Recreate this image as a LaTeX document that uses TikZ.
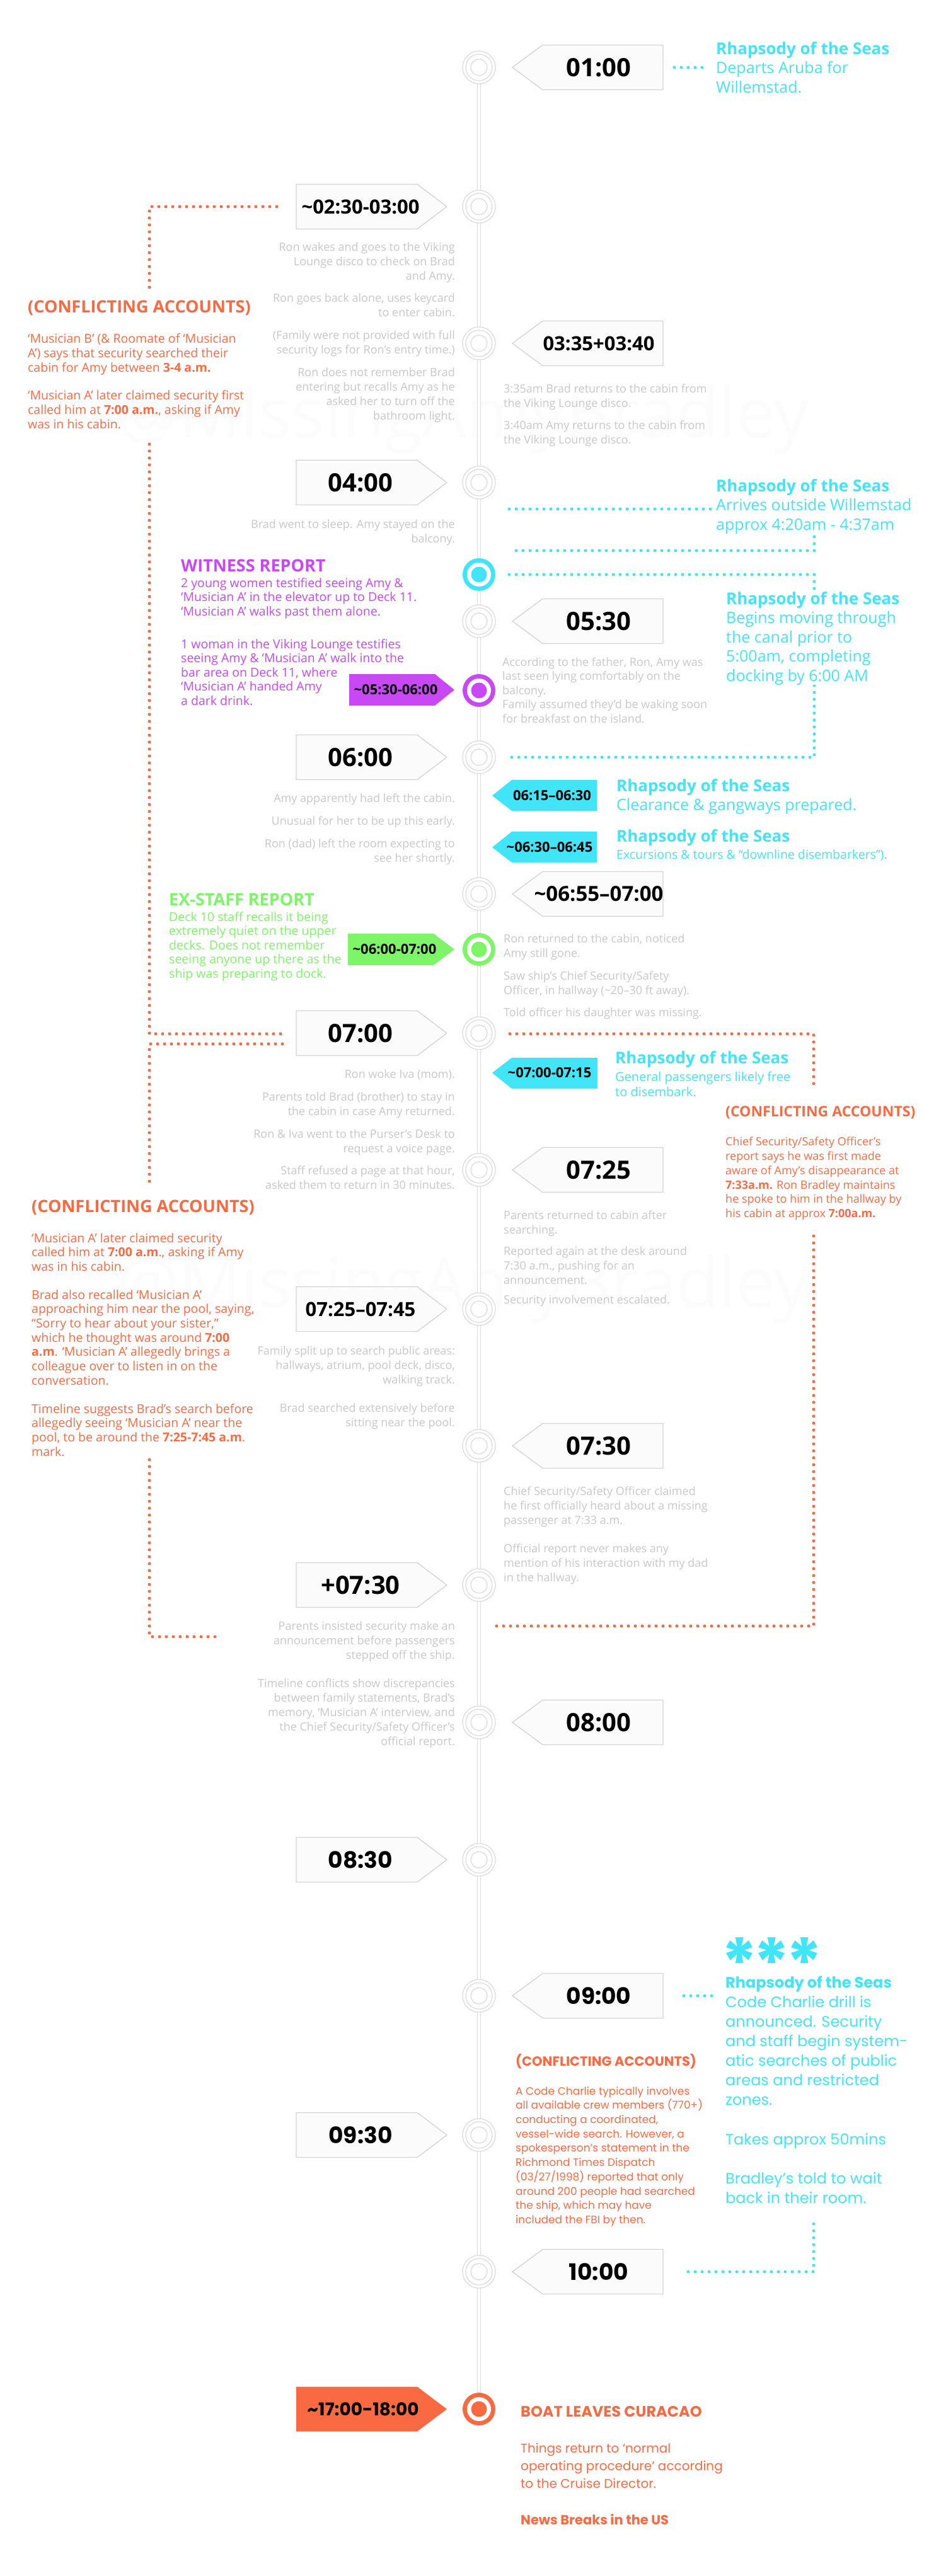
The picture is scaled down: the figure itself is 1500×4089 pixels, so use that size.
\documentclass[tikz,border=0pt]{standalone}
\usepackage{fontspec}
\setmainfont{Open Sans}
\newfontfamily\popfont{Poppins}
\usetikzlibrary{positioning}

\definecolor{seacyan}{RGB}{66,229,247}
\definecolor{witpurple}{RGB}{201,72,245}
\definecolor{staffgreen}{RGB}{126,245,104}
\definecolor{conforange}{RGB}{249,106,66}
\definecolor{pale}{RGB}{200,200,200}
\definecolor{faint}{RGB}{252,252,252}

\newcommand{\fs}[2]{\fontsize{#1}{#2}\selectfont}

\begin{document}
\begin{tikzpicture}[x=1pt, y=-1pt, line join=round, line cap=round,
    axis/.style={draw=black!13, line width=1.2pt, double=white, double distance=4pt},
    ringline/.style={draw=black!14, line width=1.2pt, fill=white},
    tbox/.style={draw=black!17, line width=1.3pt, fill=black!1.5},
    ttext/.style={inner sep=0pt},
    tagtext/.style={inner sep=0pt, font=\bfseries\fs{22}{22}},
    odots/.style={draw=conforange, line width=5pt, dash pattern=on 0pt off 11pt},
    cdots/.style={draw=seacyan, line width=5pt, dash pattern=on 0pt off 11pt},
    note/.style={inner sep=0pt, text=pale, font=\fs{18}{23}},
    seatext/.style={inner sep=0pt, text=seacyan, align=left, font=\fs{25}{30.5}},
    conftext/.style={inner sep=0pt, text=conforange, align=left},
    wmark/.style={inner sep=0pt, text=faint, font=\fs{110}{110}}]

  \fill[white] (0,0) rectangle (1500,4089);
  \useasboundingbox (0,0) rectangle (1500,4089);

  % watermarks
  \node[wmark, anchor=base west] (wm1) at (184,694) {@MissingAmyBradley};
  \node[wmark, anchor=base west] (wm2) at (184,2075) {@MissingAmyBradley};

  % time axis
  \coordinate (top) at (760,107);
  \coordinate (bot) at (760,3824);
  \draw[axis] (top) -- (bot);

  % time boxes right of the axis
  \foreach \y/\sz/\lbl in {107/40/01:00, 545/31/03:35+03:40, 986/40/05:30,
      1419/33/{\textasciitilde06:55–07:00}, 1857/40/07:25, 2295/40/07:30, 2734/40/08:00} {
    \draw[tbox] (813,\y) -- (861,\y-35.5) -- (1052,\y-35.5) -- (1052,\y+35.5) -- (861,\y+35.5) -- cycle;
    \node[ttext, font=\bfseries\fs{\sz}{\sz}] (tR\y) at (950,\y) {\lbl};
    \draw[ringline] (760,\y) circle[radius=26] circle[radius=21] circle[radius=13];
  }
  % time boxes left of the axis
  \foreach \y/\sz/\lbl in {328/31/{\textasciitilde02:30-03:00}, 766/40/04:00, 1202/40/06:00,
      1640/40/07:00, 2078/31/07:25–07:45, 2516/40/+07:30} {
    \draw[tbox] (470,\y-35.5) -- (662,\y-35.5) -- (709,\y) -- (662,\y+35.5) -- (470,\y+35.5) -- cycle;
    \node[ttext, font=\bfseries\fs{\sz}{\sz}] (tL\y) at (572,\y) {\lbl};
    \draw[ringline] (760,\y) circle[radius=26] circle[radius=21] circle[radius=13];
  }
  % later hours
  \foreach \y/\lbl in {2952/08:30, 3389/09:30} {
    \draw[tbox] (470,\y-35.5) -- (662,\y-35.5) -- (709,\y) -- (662,\y+35.5) -- (470,\y+35.5) -- cycle;
    \node[ttext, font=\popfont\bfseries\fs{36}{36}] (tL\y) at (572,\y) {\lbl};
    \draw[ringline] (760,\y) circle[radius=26] circle[radius=21] circle[radius=13];
  }
  \foreach \y/\lbl in {3168/09:00, 3606/10:00} {
    \draw[tbox] (813,\y) -- (861,\y-35.5) -- (1052,\y-35.5) -- (1052,\y+35.5) -- (861,\y+35.5) -- cycle;
    \node[ttext, font=\popfont\bfseries\fs{36}{36}] (tR\y) at (950,\y) {\lbl};
    \draw[ringline] (760,\y) circle[radius=26] circle[radius=21] circle[radius=13];
  }

  % coloured events
  \foreach \y/\c in {912/seacyan, 1096/witpurple, 1507/staffgreen, 3824/conforange} {
    \fill[\c] (760,\y) circle[radius=26];
    \fill[white] (760,\y) circle[radius=19];
    \fill[\c] (760,\y) circle[radius=12.5];
  }

  % coloured tags
  \fill[witpurple] (554,1070) -- (690,1070) -- (721,1095) -- (690,1120) -- (554,1120) -- cycle;
  \node[tagtext] (tag0530) at (628,1095) {\textasciitilde05:30-06:00};
  \fill[staffgreen] (552,1482) -- (688,1482) -- (721,1507) -- (688,1532) -- (552,1532) -- cycle;
  \node[tagtext] (tag0600) at (626,1507) {\textasciitilde06:00-07:00};
  \fill[seacyan] (781,1263) -- (812,1238) -- (947,1238) -- (947,1287) -- (812,1287) -- cycle;
  \node[tagtext] (tag0615) at (876,1263) {06:15–06:30};
  \fill[seacyan] (781,1345) -- (812,1320) -- (947,1320) -- (947,1369) -- (812,1369) -- cycle;
  \node[tagtext] (tag0630) at (872,1345) {\textasciitilde06:30–06:45};
  \fill[seacyan] (781,1703) -- (812,1679) -- (948,1679) -- (948,1728) -- (812,1728) -- cycle;
  \node[tagtext] (tag0700) at (872,1703) {\textasciitilde07:00-07:15};
  \fill[conforange] (470,3788.5) -- (662,3788.5) -- (709,3824) -- (662,3859.5) -- (470,3859.5) -- cycle;
  \node[ttext, font=\popfont\bfseries\fs{28}{28}] (tag1700) at (576,3824) {\textasciitilde17:00-18:00};

  % dotted brackets
  \coordinate (oa1) at (439,328);  \coordinate (oa2) at (237,328);  \coordinate (oa3) at (237,457);
  \coordinate (oa4) at (237,705);  \coordinate (oa5) at (237,1641); \coordinate (oa6) at (448,1641);
  \draw[odots] (oa1) -- (oa2) -- (oa3);
  \draw[odots] (oa4) -- (oa5) -- (oa6);
  \coordinate (ob1) at (448,1657); \coordinate (ob2) at (237,1657); \coordinate (ob3) at (237,1880);
  \coordinate (ob4) at (237,2317); \coordinate (ob5) at (237,2598); \coordinate (ob6) at (342,2598);
  \draw[odots] (ob1) -- (ob2) -- (ob3);
  \draw[odots] (ob4) -- (ob5) -- (ob6);
  \coordinate (oc1) at (809,1641); \coordinate (oc2) at (1291,1641); \coordinate (oc3) at (1291,1728);
  \coordinate (oc4) at (1291,1962); \coordinate (oc5) at (1291,2581); \coordinate (oc6) at (787,2581);
  \draw[odots] (oc1) -- (oc2) -- (oc3);
  \draw[odots] (oc4) -- (oc5) -- (oc6);

  \coordinate (ca1) at (1070,107); \coordinate (ca2) at (1119,107);
  \draw[cdots] (ca1) -- (ca2);
  \coordinate (cb1) at (808,808); \coordinate (cb2) at (1292,808);
  \coordinate (cb3) at (1292,874); \coordinate (cb4) at (808,874);
  \draw[cdots] (cb1) -- (cb2) -- (cb3) -- (cb4);
  \coordinate (cc1) at (808,912); \coordinate (cc2) at (1292,912);
  \coordinate (cc3) at (1292,1202); \coordinate (cc4) at (805,1202);
  \draw[cdots] (cc1) -- (cc2) -- (cc3) -- (cc4);
  \coordinate (cd1) at (1085,3168); \coordinate (cd2) at (1136,3168);
  \draw[cdots] (cd1) -- (cd2);
  \coordinate (ce1) at (1291,3530); \coordinate (ce2) at (1291,3606); \coordinate (ce3) at (1084,3606);
  \draw[cdots] (ce1) -- (ce2) -- (ce3);

  % Rhapsody of the Seas
  \node[seatext, anchor=north west] (sea1) at (1136,66)
    {\textbf{\fs{26}{30.5}Rhapsody of the Seas}\\Departs Aruba for\\Willemstad.};
  \node[seatext, anchor=north west, fill=white] (sea2) at (1136,760)
    {\textbf{\fs{26}{30.5}Rhapsody of the Seas}\\Arrives outside Willemstad\\approx 4:20am - 4:37am};
  \node[seatext, anchor=north west, fill=white] (sea3) at (1152,939)
    {\textbf{\fs{26}{30.5}Rhapsody of the Seas}\\Begins moving through\\the canal prior to\\5:00am, completing\\docking by 6:00 AM};
  \node[seatext, anchor=north west] (sea4) at (978,1236)
    {\textbf{\fs{26}{30.5}Rhapsody of the Seas}\\Clearance \& gangways prepared.};
  \node[seatext, anchor=west, font=\bfseries\fs{26}{26}] (sea5) at (978,1330) {Rhapsody of the Seas};
  \node[seatext, anchor=west, font=\fs{19.5}{19.5}] (sea5b) at (978,1358) {Excursions \& tours \& “downline disembarkers”).};
  \node[seatext, anchor=west, font=\bfseries\fs{26}{26}] (sea6) at (976,1682) {Rhapsody of the Seas};
  \node[seatext, anchor=north west, font=\fs{20}{24}] (sea6b) at (976,1701)
    {General passengers likely free\\to disembark.};

  % witness report
  \node[inner sep=0pt, anchor=west, text=witpurple, font=\bfseries\fs{27}{27}] (wit) at (287,898) {WITNESS REPORT};
  \node[inner sep=0pt, anchor=north west, align=left, text=witpurple, font=\fs{19.5}{22.5}] (wit1) at (287,917)
    {2 young women testified seeing Amy \&\\‘Musician A’ in the elevator up to Deck 11.\\‘Musician A’ walks past them alone.};
  \node[inner sep=0pt, anchor=north west, align=left, text=witpurple, font=\fs{19.5}{22.5}] (wit2) at (287,1014)
    {1 woman in the Viking Lounge testifies\\seeing Amy \& ‘Musician A’ walk into the\\bar area on Deck 11, where\\‘Musician A’ handed Amy\\a dark drink.};

  % ex-staff report
  \node[inner sep=0pt, anchor=west, text=staffgreen, font=\bfseries\fs{27}{27}] (staff) at (268,1428) {EX-STAFF REPORT};
  \node[inner sep=0pt, anchor=north west, align=left, text=staffgreen, font=\fs{19.5}{22.5}] (staff1) at (268,1447)
    {Deck 10 staff recalls it being\\extremely quiet on the upper\\decks. Does not remember\\seeing anyone up there as the\\ship was preparing to dock.};

  % conflicting accounts
  \node[conftext, anchor=west, font=\bfseries\fs{27}{27}] (conf1) at (44,489) {(CONFLICTING ACCOUNTS)};
  \node[conftext, anchor=north west, font=\fs{19.5}{23}] (conf1b) at (44,529)
    {‘Musician B’ (\& Roomate of ‘Musician\\A’) says that security searched their\\cabin for Amy between \textbf{3-4 a.m.}\\[21pt]
     ‘Musician A’ later claimed security first\\called him at \textbf{7:00 a.m.}, asking if Amy\\was in his cabin.};
  \node[conftext, anchor=west, font=\bfseries\fs{23}{23}] (conf2) at (1151,1766) {(CONFLICTING ACCOUNTS)};
  \node[conftext, anchor=north west, font=\fs{18}{22.7}] (conf2b) at (1151,1805)
    {Chief Security/Safety Officer’s\\report says he was first made\\aware of Amy’s disappearance at\\\textbf{7:33a.m.} Ron Bradley maintains\\he spoke to him in the hallway by\\his cabin at approx \textbf{7:00a.m.}};
  \node[conftext, anchor=west, font=\bfseries\fs{27}{27}] (conf3) at (50,1917) {(CONFLICTING ACCOUNTS)};
  \node[conftext, anchor=north west, font=\fs{19.5}{22.7}] (conf3b) at (50,1957)
    {‘Musician A’ later claimed security\\called him at \textbf{7:00 a.m}., asking if Amy\\was in his cabin.\\[22pt]
     Brad also recalled ‘Musician A’\\approaching him near the pool, saying,\\“Sorry to hear about your sister,”\\which he thought was around \textbf{7:00}\\\textbf{a.m}. ‘Musician A’ allegedly brings a\\colleague over to listen in on the\\conversation.\\[22pt]
     Timeline suggests Brad’s search before\\allegedly seeing ‘Musician A’ near the\\pool, to be around the \textbf{7:25-7:45 a.m}.\\mark.};
  \node[conftext, anchor=west, font=\popfont\bfseries\fs{21}{21}] (conf4) at (818,3272) {(CONFLICTING ACCOUNTS)};
  \node[conftext, anchor=north west, font=\popfont\fs{17}{22.7}] (conf4b) at (818,3312)
    {A Code Charlie typically involves\\all available crew members (770+)\\conducting a coordinated,\\vessel-wide search. However, a\\spokesperson’s statement in the\\Richmond Times Dispatch\\(03/27/1998) reported that only\\around 200 people had searched\\the ship, which may have\\included the FBI by then.};

  % code charlie
  \node[inner sep=0pt, anchor=west, text=seacyan, font=\popfont\bfseries\fs{108}{108}] (stars) at (1144,3116) {*\kern-6pt*\kern-6pt*};
  \node[inner sep=0pt, anchor=north west, align=left, text=seacyan, font=\popfont\fs{24}{31}] (sea7) at (1151,3136)
    {\textbf{Rhapsody of the Seas}\\Code Charlie drill is\\announced. Security\\and staff begin system-\\atic searches of public\\areas and restricted\\zones.\\[32pt]
     Takes approx 50mins\\[31pt]Bradley’s told to wait\\back in their room.};

  % departure
  \node[conftext, anchor=west, font=\popfont\bfseries\fs{24}{24}] (boat) at (826,3828) {BOAT LEAVES CURACAO};
  \node[conftext, anchor=north west, font=\popfont\fs{20}{28}] (boatb) at (826,3878)
    {Things return to ‘normal\\operating procedure’ according\\to the Cruise Director.};
  \node[conftext, anchor=west, font=\popfont\bfseries\fs{21}{21}] (news) at (826,3999) {News Breaks in the US};

  % family account
  \node[note, anchor=north east, align=right] (n1) at (722,384.5)
    {Ron wakes and goes to the Viking\\Lounge disco to check on Brad\\and Amy.\\[12pt]
     Ron goes back alone, uses keycard\\to enter cabin.\\[13pt]
     (Family were not provided with full\\security logs for Ron’s entry time.)\\[13pt]
     Ron does not remember Brad\\entering but recalls Amy as he\\asked her to turn off the\\bathroom light.};
  \node[note, anchor=north west, align=left] (n2) at (799,609.5)
    {3:35am Brad returns to the cabin from\\the Viking Lounge disco.\\[12pt]
     3:40am Amy returns to the cabin from\\the Viking Lounge disco.};
  \node[note, anchor=north east, align=right] (n3) at (722,824.5)
    {Brad went to sleep. Amy stayed on the\\balcony.};
  \node[note, anchor=north west, align=left, font=\fs{18}{22.5}] (n4) at (797,1043.5)
    {According to the father, Ron, Amy was\\last seen lying comfortably on the\\balcony.\\Family assumed they’d be waking soon\\for breakfast on the island.};
  \node[note, anchor=north east, align=right] (n5) at (722,1259.5)
    {Amy apparently had left the cabin.\\[13pt]Unusual for her to be up this early.\\[13pt]
     Ron (dad) left the room expecting to\\see her shortly.};
  \node[note, anchor=north west, align=left] (n6) at (799,1482.5)
    {Ron returned to the cabin, noticed\\Amy still gone.\\[13pt]
     Saw ship’s Chief Security/Safety\\Officer, in hallway (\textasciitilde20–30 ft away).\\[12pt]
     Told officer his daughter was missing.};
  \node[note, anchor=north east, align=right] (n7) at (722,1697.5)
    {Ron woke Iva (mom).\\[13pt]Parents told Brad (brother) to stay in\\the cabin in case Amy returned.\\[13pt]
     Ron \& Iva went to the Purser’s Desk to\\request a voice page.\\[12pt]
     Staff refused a page at that hour,\\asked them to return in 30 minutes.};
  \node[note, anchor=north west, align=left] (n8) at (799,1921.5)
    {Parents returned to cabin after\\searching.\\[11pt]
     Reported again at the desk around\\7:30 a.m., pushing for an\\announcement.\\[8pt]
     Security involvement escalated.};
  \node[note, anchor=north east, align=right] (n9) at (722,2136.5)
    {Family split up to search public areas:\\hallways, atrium, pool deck, disco,\\walking track.\\[22pt]
     Brad searched extensively before\\sitting near the pool.};
  \node[note, anchor=north west, align=left] (n10) at (799,2359.5)
    {Chief Security/Safety Officer claimed\\he first officially heard about a missing\\passenger at 7:33 a.m.\\[22pt]
     Official report never makes any\\mention of his interaction with my dad\\in the hallway.};
  \node[note, anchor=north east, align=right] (n11) at (722,2573.5)
    {Parents insisted security make an\\announcement before passengers\\stepped off the ship.\\[22pt]
     Timeline conflicts show discrepancies\\between family statements, Brad’s\\memory, ‘Musician A’ interview, and\\the Chief Security/Safety Officer’s\\official report.};
\end{tikzpicture}
\end{document}
